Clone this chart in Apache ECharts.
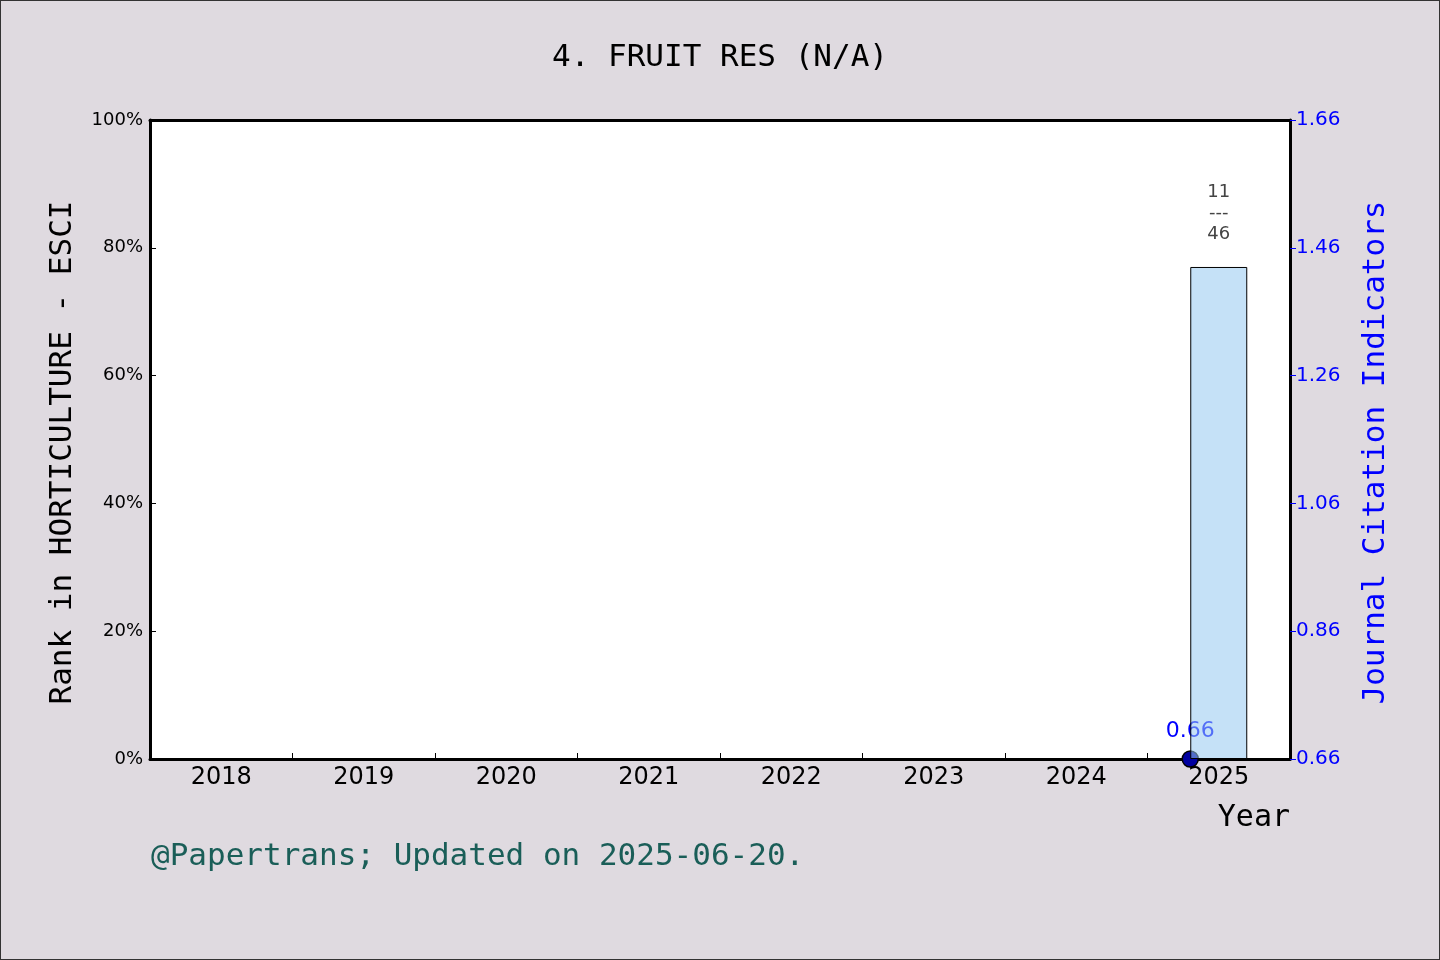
<!DOCTYPE html>
<html>
<head>
<meta charset="utf-8">
<title>4. FRUIT RES (N/A)</title>
<script src="https://cdn.jsdelivr.net/npm/echarts@6/dist/echarts.min.js"></script>
<style>
  html, body { margin: 0; padding: 0; background: #dfdae0; }
  #main { width: 1440px; height: 960px; box-sizing: border-box; border: 1px solid #333; }
</style>
</head>
<body>
<div id="main"></div>
<script>
// chart data
const years = ['2018', '2019', '2020', '2021', '2022', '2023', '2024', '2025'];
const rankPercent = [null, null, null, null, null, null, null, 77];
const rankText = ['', '', '', '', '', '', '', '11\n---\n46'];
const jciValues = [null, null, null, null, null, null, null, 0.66];
const jciTicks = [0.66, 0.86, 1.06, 1.26, 1.46, 1.66];

const mono = '"DejaVu Sans Mono", monospace';
const sans = '"DejaVu Sans", sans-serif';

const chart = echarts.init(document.getElementById('main'));

// jci points sit a bit left of the bar centre
const jciPoints = [];
jciValues.forEach(function (v, i) {
  if (v !== null) jciPoints.push([i - 0.2, v]);
});

var option = {
  backgroundColor: '#dfdae0',
  animation: false,
  title: {
    text: '4. FRUIT RES (N/A)',
    left: 'center',
    top: 36,
    textStyle: { fontFamily: mono, fontSize: 31, fontWeight: 'normal', color: '#000' }
  },
  grid: { left: 149, right: 149, top: 119, bottom: 200, show: true, backgroundColor: '#fff', borderWidth: 0 },
  graphic: [{
    type: 'text',
    left: 150,
    top: 840,
    style: { text: '@Papertrans; Updated on 2025-06-20.', fontFamily: mono, fontSize: 31, fill: '#1a5e58' }
  }],
  xAxis: [{
    type: 'category',
    data: years,
    name: 'Year',
    nameLocation: 'end',
    nameGap: 0,
    nameTextStyle: { fontFamily: mono, fontSize: 30, color: '#000', align: 'right', verticalAlign: 'top', padding: [44, 0, 0, 0] },
    axisLine: { lineStyle: { color: '#000', width: 3 } },
    axisTick: { show: true, inside: true, length: 6, lineStyle: { color: '#000', width: 1 } },
    axisLabel: { fontFamily: sans, fontSize: 24, color: '#000', margin: 7 },
    splitLine: { show: false }
  }, {
    type: 'value',
    min: -0.5,
    max: 7.5,
    show: false
  }, {
    type: 'category',
    data: years,
    position: 'top',
    axisLine: { lineStyle: { color: '#000', width: 3 } },
    axisTick: { show: false },
    axisLabel: { show: false }
  }],
  yAxis: [{
    type: 'value',
    min: 0,
    max: 100,
    interval: 20,
    position: 'left',
    name: 'Rank in HORTICULTURE - ESCI',
    nameLocation: 'middle',
    nameGap: 72,
    nameTextStyle: { fontFamily: mono, fontSize: 31, color: '#000', padding: [0, 26, 0, 0] },
    axisLine: { show: true, onZero: false, lineStyle: { color: '#000', width: 3 } },
    axisTick: { show: true, inside: true, length: 6, lineStyle: { color: '#000', width: 1 } },
    axisLabel: { formatter: '{value}%', fontFamily: sans, fontSize: 18, color: '#000', margin: 7 },
    splitLine: { show: false }
  }, {
    type: 'value',
    min: jciTicks[0],
    max: jciTicks[jciTicks.length - 1],
    interval: 0.2,
    position: 'right',
    name: 'Journal Citation Indicators',
    nameLocation: 'middle',
    nameGap: 70,
    nameRotate: 90,
    nameTextStyle: { fontFamily: mono, fontSize: 31, color: '#0000ff', padding: [0, 26, 0, 0] },
    axisLine: { show: true, onZero: false, lineStyle: { color: '#000', width: 3 } },
    axisTick: { show: true, length: 6, lineStyle: { color: '#0000ff', width: 1 } },
    axisLabel: {
      formatter: function (v) { return v.toFixed(2); },
      fontFamily: sans, fontSize: 20, color: '#0000ff', margin: 6
    },
    splitLine: { show: false }
  }],
  series: [{
    name: 'JCI',
    type: 'scatter',
    xAxisIndex: 1,
    yAxisIndex: 1,
    data: jciPoints,
    symbol: 'circle',
    symbolSize: 16,
    itemStyle: { color: '#0000a0', borderColor: '#000', borderWidth: 1.5, opacity: 1 },
    label: {
      show: true,
      position: 'top',
      distance: 8,
      formatter: function (p) { return p.value[1].toFixed(2); },
      fontFamily: sans,
      fontSize: 22,
      color: '#0000ff'
    },
    z: 2
  }, {
    name: 'Rank',
    type: 'bar',
    data: rankPercent,
    barWidth: '40%',
    itemStyle: { color: 'rgba(150, 200, 240, 0.55)', borderColor: '#000', borderWidth: 1 },
    label: {
      show: true,
      position: 'top',
      distance: 22,
      formatter: function (p) { return rankText[p.dataIndex]; },
      fontFamily: sans,
      fontSize: 18,
      lineHeight: 21,
      color: '#444'
    },
    z: 3
  }]
};

chart.setOption(option);
</script>
</body>
</html>
